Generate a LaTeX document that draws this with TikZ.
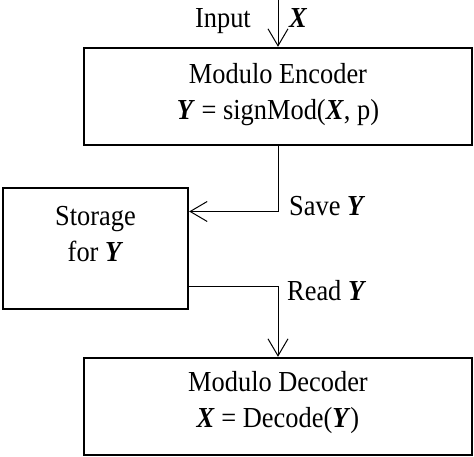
\documentclass[tikz,border=0pt]{standalone}
\usepackage{fontspec}
\setmainfont{Liberation Serif}[FakeStretch=0.91]
\usetikzlibrary{arrows.meta,calc}
\newcommand{\bi}[1]{\textbf{\textit{#1}}}
\begin{document}
\begin{tikzpicture}[x=1pt,y=-1pt,
  box/.style={draw, line width=2.4pt, rectangle, inner sep=0pt},
  txt/.style={font=\fontsize{29}{36}\selectfont, align=center, inner sep=0pt},
  lbl/.style={font=\fontsize{29}{36}\selectfont, inner sep=0pt, anchor=base west},
  arr/.style={line width=1pt, -{Straight Barb[length=17pt,width=20pt,line width=1pt]}},
  conn/.style={line width=1pt}]
\useasboundingbox (0,0) rectangle (474,456);
\node[box, minimum width=388pt, minimum height=97pt] (enc) at (278,96.5) {};
\node[txt] (enctxt) at (278,95) {Modulo Encoder\\\bi{Y} = signMod(\bi{X}, p)};
\node[box, minimum width=185pt, minimum height=121pt] (sto) at (95.5,248.5) {};
\node[txt] (stotxt) at (95.5,234) {Storage\\for \bi{Y}};
\node[box, minimum width=388pt, minimum height=97pt] (dec) at (278,406.5) {};
\node[txt] (dectxt) at (278,403) {Modulo Decoder\\\bi{X} = Decode(\bi{Y})};
\coordinate (in) at (enc.north |- 0,0);
\draw[arr] (in) -- (enc.north);
\node[lbl, anchor=base east] (inlbl) at (251,27) {Input};
\node[lbl] (xlbl) at (289,27) {\bi{X}};
\draw[arr] (enc.south) |- ($(sto.north east)!0.2!(sto.south east)$);
\node[lbl] (savelbl) at (289,215) {Save \bi{Y}};
\draw[arr] ($(sto.north east)!0.81!(sto.south east)$) -| (dec.north);
\node[lbl] (readlbl) at (287,300) {Read \bi{Y}};
\end{tikzpicture}
\end{document}
